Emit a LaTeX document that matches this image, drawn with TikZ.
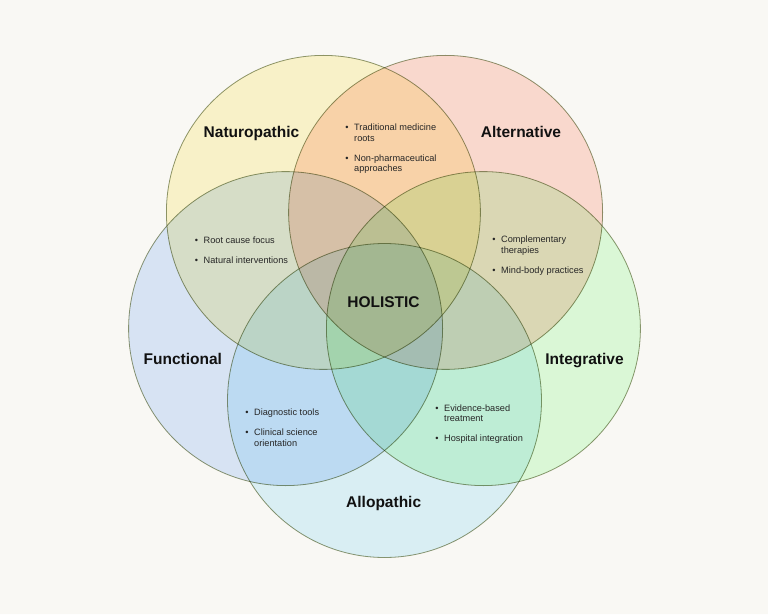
\documentclass[tikz,border=0pt]{standalone}
\usepackage{fontspec}
\setmainfont{Liberation Sans}
\definecolor{bg}{RGB}{249,248,244}
\definecolor{cyel}{RGB}{254,248,210}
\definecolor{cpink}{RGB}{255,223,215}
\definecolor{cblue}{RGB}{221,234,254}
\definecolor{cgreen}{RGB}{224,254,224}
\definecolor{ccyan}{RGB}{223,245,254}
\definecolor{edgec}{RGB}{145,155,118}
\definecolor{labelc}{RGB}{17,17,17}
\definecolor{itemc}{RGB}{38,38,38}
\newcommand\bul{\makebox[3.2pt]{\textbullet}}
\newenvironment{blist}{\begin{tabular}[t]{@{}l@{\hspace{5.5pt}}l@{}}}{\end{tabular}}
\begin{document}
\begin{tikzpicture}[x=1pt,y=1pt,
  circ/.style={circle, minimum size=314pt, inner sep=0pt, draw=edgec, line width=0.8pt},
  lbl/.style={font=\fontsize{15.5}{18}\selectfont\bfseries, text=labelc, anchor=base, inner sep=0pt},
  lst/.style={font=\fontsize{9.2}{10.3}\selectfont, text=itemc, anchor=base west, inner sep=0pt}]
\useasboundingbox (0,0) rectangle (768,614);
\begin{scope}[blend group=multiply]
  \fill[bg] (0,0) rectangle (768,614);
  \node[circ, fill=cyel]   (nat) at (323.4, 401.6) {};
  \node[circ, fill=cpink]  (alt) at (445.6, 401.6) {};
  \node[circ, fill=cblue]  (fun) at (285.6, 285.4) {};
  \node[circ, fill=cgreen] (int) at (483.4, 285.4) {};
  \node[circ, fill=ccyan]  (all) at (384.5, 213.5) {};
\end{scope}
% labels
\node[lbl] (lnat) at (251.5, 476.5) {Naturopathic};
\node[lbl] (lalt) at (521, 476.5) {Alternative};
\node[lbl] (lfun) at (182.8, 249.7) {Functional};
\node[lbl] (lint) at (584.5, 249.7) {Integrative};
\node[lbl] (lall) at (383.7, 106.3) {Allopathic};
\node[lbl] (lhol) at (383.5, 306.6) {HOLISTIC};
% lists
\node[lst] (top) at (345.3, 483) {\begin{blist}
  \bul & Traditional medicine\\
       & roots\\[10pt]
  \bul & Non-pharmaceutical\\
       & approaches
\end{blist}};
\node[lst] (left) at (194.8, 370.8) {\begin{blist}
  \bul & Root cause focus\\[10pt]
  \bul & Natural interventions
\end{blist}};
\node[lst] (right) at (492.3, 371) {\begin{blist}
  \bul & Complementary\\
       & therapies\\[10pt]
  \bul & Mind-body practices
\end{blist}};
\node[lst] (bleft) at (245.3, 198.5) {\begin{blist}
  \bul & Diagnostic tools\\[10pt]
  \bul & Clinical science\\
       & orientation
\end{blist}};
\node[lst] (bright) at (435.3, 203) {\begin{blist}
  \bul & Evidence-based\\
       & treatment\\[10pt]
  \bul & Hospital integration
\end{blist}};
\end{tikzpicture}
\end{document}
